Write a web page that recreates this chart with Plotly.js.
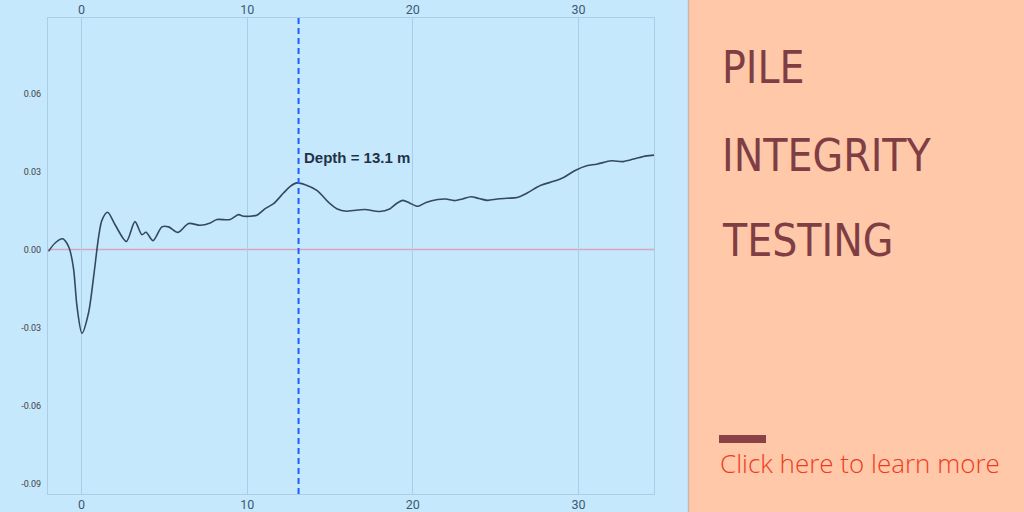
<!DOCTYPE html>
<html>
<head>
<meta charset="utf-8">
<script src="https://cdn.plot.ly/plotly-3.0.1.min.js"></script>
<style>html,body{margin:0;padding:0;background:#c6e8fc;}#chart{width:1024px;height:512px;}</style>
</head>
<body>
<div id="chart"></div>
<script>
// Data
const depth = [-2.0, -1.6, -1.15, -0.9, -0.72, -0.48, -0.28, 0.02, 0.42, 0.73, 1.03, 1.23, 1.57, 2.03, 2.70, 3.22, 3.64, 3.89, 4.31, 4.85, 5.25, 5.82, 6.46, 7.16, 7.77, 8.17, 8.97, 9.47, 9.78, 10.58, 11.08, 11.59, 12.19, 12.6, 13.0, 13.5, 14.2, 15.0, 15.4, 16.0, 16.4, 17.1, 18.0, 18.6, 19.0, 19.4, 19.8, 20.3, 20.8, 21.5, 22.0, 22.5, 23.0, 23.5, 24.0, 24.5, 25.1, 25.7, 26.3, 26.9, 27.7, 28.5, 29.1, 29.8, 30.5, 31.1, 32.0, 32.7, 33.5, 34.1, 34.56];
const amplitude = [-0.0007, 0.0025, 0.0041, 0.0025, 0.0, -0.0077, -0.0218, -0.0322, -0.0243, -0.0102, 0.005, 0.0113, 0.0143, 0.0094, 0.0031, 0.0107, 0.0057, 0.0066, 0.0034, 0.0087, 0.0087, 0.0066, 0.0100, 0.0093, 0.0102, 0.0115, 0.0115, 0.0134, 0.0128, 0.0132, 0.0157, 0.0176, 0.0217, 0.0243, 0.0256, 0.0249, 0.0227, 0.0176, 0.0157, 0.0147, 0.0150, 0.0154, 0.0146, 0.0156, 0.0176, 0.0189, 0.0179, 0.0166, 0.0181, 0.0192, 0.0194, 0.0188, 0.0194, 0.0203, 0.0196, 0.0189, 0.0194, 0.0197, 0.0200, 0.0217, 0.0246, 0.0262, 0.0277, 0.0304, 0.0322, 0.0328, 0.0341, 0.0338, 0.0351, 0.0360, 0.0363];
const markerDepth = 13.1;
const markerLabel = "Depth = 13.1 m";
const xTickVals = [0, 10, 20, 30];
const xTickText = ["0", "10", "20", "30"];
const yTickVals = [0.06, 0.03, 0.0, -0.03, -0.06, -0.09];
const yTickText = ["0.06", "0.03", "0.00", "-0.03", "-0.06", "-0.09"];
const titleLines = ["PILE", "INTEGRITY", "TESTING"];
const linkText = "Click here to learn more";

// layout geometry helpers (pixel -> paper)
const W = 1024, H = 512, ML = 48, MR = 0, MT = 18, MB = 18;
const PW = W - ML - MR, PH = H - MT - MB;
const px = p => (p - ML) / PW;
const py = p => (H - MB - p) / PH;

const xRange = [-2.03, 34.58];
const gridCol = '#a9cfe6';
const tickFont = {family: 'Roboto, sans-serif', size: 12.5, color: '#3d5873'};

const traces = [
  {
    x: depth, y: amplitude, type: 'scatter', mode: 'lines',
    line: {color: '#35495d', width: 1.6, shape: 'spline', smoothing: 0.8},
    hoverinfo: 'skip', showlegend: false
  },
  { // carrier for the mirrored top axis (invisible)
    x: depth, y: amplitude, xaxis: 'x2', type: 'scatter', mode: 'lines',
    line: {color: 'rgba(0,0,0,0)', width: 0}, hoverinfo: 'skip', showlegend: false
  }
];

const titleY = [68, 155, 240];
const annotations = titleLines.map((t, i) => ({
  text: t, xref: 'paper', yref: 'paper', x: px(720), y: py(titleY[i]),
  xanchor: 'left', yanchor: 'middle', showarrow: false,
  font: {family: '"Liberation Sans Narrow", "DejaVu Sans Condensed", "Roboto", sans-serif', size: 44, color: '#7f3d44', weight: 300}
}));
annotations.push({
  text: linkText, xref: 'paper', yref: 'paper', x: px(718), y: py(463),
  xanchor: 'left', yanchor: 'middle', showarrow: false,
  font: {family: '"Open Sans", sans-serif', size: 26, color: '#ef3b1d', weight: 300}
});
annotations.push({
  text: '<b>' + markerLabel + '</b>', xref: 'x', yref: 'y', x: markerDepth, y: 0.0352,
  xanchor: 'left', yanchor: 'middle', xshift: 3, showarrow: false,
  font: {family: 'Liberation Sans, Arial, sans-serif', size: 15, color: '#1f3347'}
});

const shapes = [
  {type: 'rect', xref: 'paper', yref: 'paper', x0: px(688), x1: px(1030), y0: py(520), y1: py(-8),
   fillcolor: '#fec8a9', line: {width: 0}, layer: 'below'},
  {type: 'line', xref: 'paper', yref: 'paper', x0: px(688.5), x1: px(688.5), y0: py(520), y1: py(-8),
   line: {color: 'rgba(170,170,170,0.6)', width: 1.5}, layer: 'below'},
  {type: 'rect', xref: 'paper', yref: 'paper', x0: px(719), x1: px(766), y0: py(443), y1: py(435),
   fillcolor: '#8a4247', line: {width: 0}},
  {type: 'line', xref: 'paper', yref: 'y', x0: 0, x1: px(654.3), y0: 0, y1: 0,
   line: {color: '#d7a5bd', width: 1.5}, layer: 'below'},
  {type: 'line', xref: 'x', yref: 'paper', x0: markerDepth, x1: markerDepth, y0: 0, y1: 1,
   line: {color: '#1f5fff', width: 2, dash: '6px,4px'}}
];

const layout = {
  width: W, height: H,
  margin: {l: ML, r: MR, t: MT, b: MB, pad: 0},
  paper_bgcolor: '#c6e8fc', plot_bgcolor: '#c6e8fc',
  showlegend: false,
  xaxis: {
    domain: [0, px(654.3)], range: xRange, tickvals: xTickVals, ticktext: xTickText,
    showgrid: true, gridcolor: gridCol, gridwidth: 1, zeroline: false,
    showline: true, linecolor: gridCol, linewidth: 1, mirror: true, ticks: '',
    tickfont: tickFont, ticklabelstandoff: -1
  },
  xaxis2: {
    overlaying: 'x', side: 'top', range: xRange, tickvals: xTickVals, ticktext: xTickText,
    showgrid: false, zeroline: false, showline: false, ticks: '',
    tickfont: tickFont, anchor: 'y', ticklabelstandoff: 1
  },
  yaxis: {
    range: [-0.0940, 0.0890], tickvals: yTickVals, ticktext: yTickText,
    showgrid: false, zeroline: false,
    showline: true, linecolor: gridCol, linewidth: 1, mirror: true, ticks: '',
    tickfont: {family: 'Roboto, sans-serif', size: 9, color: '#444'}, ticklabelstandoff: 4
  },
  shapes: shapes,
  annotations: annotations
};

Plotly.newPlot('chart', traces, layout, {displayModeBar: false, staticPlot: true});
</script>
</body>
</html>
